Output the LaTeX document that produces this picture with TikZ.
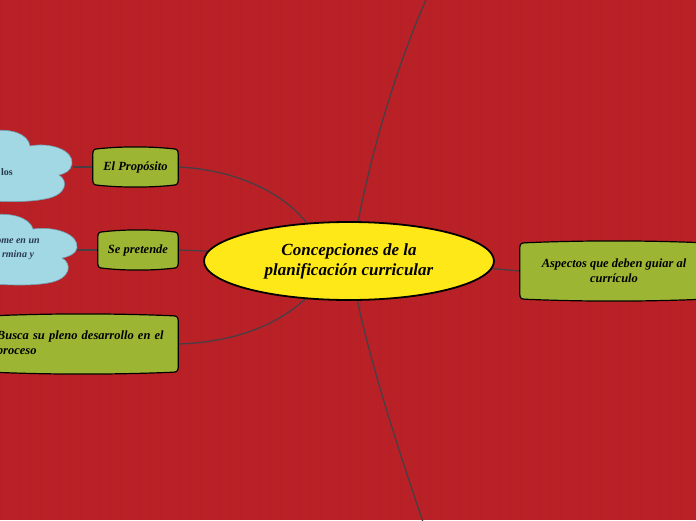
\documentclass[tikz,border=0pt]{standalone}
\usepackage{fontspec}
\setmainfont{Liberation Serif}
\usetikzlibrary{shapes.geometric,calc}
\definecolor{bg}{RGB}{186,33,39}
\definecolor{gridc}{RGB}{181,32,38}
\definecolor{boxg}{RGB}{156,182,51}
\definecolor{ylw}{RGB}{255,232,23}
\definecolor{cloudc}{RGB}{162,215,228}
\definecolor{cloudl}{RGB}{110,160,178}
\definecolor{linkc}{RGB}{72,62,68}
\definecolor{ctext}{RGB}{42,58,78}
\pgfdeclarelayer{back}
\pgfdeclarelayer{links}
\pgfdeclarelayer{shapes}
\pgfsetlayers{back,links,shapes,main}
\tikzset{
  link/.style={draw=linkc, line width=1.3pt},
  gboxline/.style={draw=black, line width=1.2pt, fill=boxg},
  gtext/.style={inner sep=0pt, align=center, text=black,
    font=\fontsize{12.5}{15}\selectfont\bfseries\itshape},
  ctxt/.style={inner sep=0pt, text=ctext, font=\fontsize{10}{14}\selectfont\bfseries\itshape},
  cloudshape/.style={fill=cloudc, draw=cloudl, line width=0.6pt},
}
\newcommand\gbox[1]{%
 \filldraw[gboxline]
  ($(#1.north west)+(0,-5pt)$)
  .. controls ($(#1.north west)+(0,-1.5pt)$) and ($(#1.north west)+(1.5pt,0)$) .. ($(#1.north west)+(5pt,0)$)
  .. controls ($(#1.north west)!0.33!(#1.north east)+(0,2.5pt)$) and ($(#1.north west)!0.67!(#1.north east)+(0,2.5pt)$) .. ($(#1.north east)+(-5pt,0)$)
  .. controls ($(#1.north east)+(-1.5pt,0)$) and ($(#1.north east)+(0,-1.5pt)$) .. ($(#1.north east)+(0,-5pt)$)
  -- ($(#1.south east)+(0,5pt)$)
  .. controls ($(#1.south east)+(0,1.5pt)$) and ($(#1.south east)+(-1.5pt,0)$) .. ($(#1.south east)+(-5pt,0)$)
  .. controls ($(#1.south west)!0.67!(#1.south east)+(0,-2.5pt)$) and ($(#1.south west)!0.33!(#1.south east)+(0,-2.5pt)$) .. ($(#1.south west)+(5pt,0)$)
  .. controls ($(#1.south west)+(1.5pt,0)$) and ($(#1.south west)+(0,1.5pt)$) .. ($(#1.south west)+(0,5pt)$)
  -- cycle;}
\begin{document}
\begin{tikzpicture}[x=1pt,y=-1pt]
\useasboundingbox (0,0) rectangle (696,520);
\begin{pgfonlayer}{back}
\fill[bg] (0,0) rectangle (696,520);
\draw[gridc, line width=0.4pt] (0,0) grid[step=10] (696,520);
\end{pgfonlayer}

% central node
\node[ellipse, draw=black, line width=1.8pt, fill=ylw, minimum width=290pt,
  minimum height=78pt, inner sep=0pt, align=center,
  font=\fontsize{17}{20}\selectfont\bfseries\itshape] (c) at (349,261)
  {Concepciones de la\\planificación curricular};

% green boxes
\node[gtext, minimum width=85pt, minimum height=36pt] (prop) at (135.5,167) {El Propósito};
\node[gtext, minimum width=80pt, minimum height=36pt] (sep) at (138,250) {Se pretende};
\node[gtext, minimum width=190pt, minimum height=56pt, align=left, text width=172pt] (busca) at (83,344)
  {Busca su pleno desarrollo en el\\proceso};
\node[gtext, minimum width=188pt, minimum height=56pt] (asp) at (614,271)
  {Aspectos que deben guiar al\\currículo};

% cloud texts
\node[ctxt, font=\fontsize{10}{14}\selectfont\bfseries, anchor=base east] (ta) at (13,175) {los};
\node[ctxt, align=center] (tb) at (18,249) {ome en un\\rmina y};

\begin{pgfonlayer}{shapes}
\gbox{prop}
\gbox{sep}
\gbox{busca}
\gbox{asp}
% cloud A
\filldraw[cloudshape] (-10,131) .. controls (12,128) and (28,134) .. (30,146)
  .. controls (50,142) and (74,150) .. (72,164)
  .. controls (71,171) and (64,174) .. (59,175)
  .. controls (68,180) and (68,195) .. (45,199)
  .. controls (30,202) and (10,202) .. (-10,201) -- cycle;
\coordinate (cloudA) at (72.5,167);
% cloud B
\filldraw[cloudshape] (-10,215) .. controls (12,212) and (30,218) .. (33,229)
  .. controls (55,226) and (79,234) .. (77,248)
  .. controls (76,254) and (68,257) .. (62,258)
  .. controls (72,263) and (72,279) .. (48,283)
  .. controls (30,286) and (10,285) .. (-10,284) -- cycle;
\coordinate (cloudB) at (77,250);
\end{pgfonlayer}

\coordinate (topend) at (428,-5);
\coordinate (botend) at (424,525);
\begin{pgfonlayer}{links}
\draw[link] (c.77) .. controls (372,150) and (395,70) .. (topend);
\draw[link] (c.282) .. controls (370,360) and (395,440) .. (botend);
\draw[link] (prop.east) .. controls (240,170) and (285,195) .. (c.138);
\draw[link] (busca.east) .. controls (240,342) and (280,322) .. (c.221);
\draw[link] (sep.east) -- (c.176);
\draw[link] (c.-3) -- (asp.west);
\draw[link] (cloudA) -- (prop.west);
\draw[link] (cloudB) -- (sep.west);
\end{pgfonlayer}
\end{tikzpicture}
\end{document}
